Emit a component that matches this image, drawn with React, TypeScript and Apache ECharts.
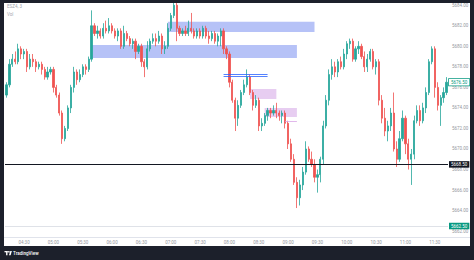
import React, { useEffect, useRef } from "react";
import * as echarts from "echarts";

// 3-minute candles, ESZ4, starting 04:12
const startMinute = 4 * 60 + 12;
const stepMinutes = 3;

const opens = [
  5675.25, 5676.25, 5678.25, 5678.75, 5678.5, 5679.75, 5679.25, 5679.5, 5678.0, 5678.75,
  5678.5, 5678.0, 5678.25, 5677.75, 5677.0, 5677.5, 5677.75, 5676.0, 5675.25, 5673.5,
  5671.0, 5672.0, 5674.0, 5676.0, 5677.5, 5676.75, 5677.25, 5678.0, 5677.75, 5678.75,
  5682.0, 5681.25, 5681.5, 5681.0, 5681.75, 5681.5, 5682.0, 5681.5, 5681.0, 5681.5,
  5680.0, 5681.25, 5680.75, 5680.25, 5680.5, 5679.5, 5680.0, 5678.5, 5678.0, 5679.75,
  5680.5, 5680.75, 5680.5, 5681.0, 5679.75, 5680.0, 5681.75, 5683.0, 5684.0, 5681.75,
  5681.25, 5681.5, 5681.25, 5681.75, 5681.5, 5681.0, 5681.5, 5681.0, 5681.75, 5681.0,
  5680.75, 5681.25, 5680.5, 5681.0, 5681.5, 5679.75, 5679.25, 5676.5, 5674.75, 5673.0,
  5674.25, 5675.5, 5676.25, 5677.0, 5675.5, 5674.25, 5674.75, 5672.25, 5672.5, 5673.25,
  5673.75, 5673.5, 5673.75, 5673.5, 5673.25, 5673.5, 5672.5, 5670.5, 5669.0, 5666.75,
  5665.25, 5666.5, 5667.75, 5670.0, 5669.0, 5668.5, 5667.25, 5667.5, 5669.0, 5672.25,
  5674.75, 5677.25, 5678.0, 5677.5, 5678.5, 5678.0, 5679.25, 5680.25, 5680.5, 5678.75,
  5679.75, 5680.0, 5679.0, 5678.0, 5678.75, 5679.5, 5678.0, 5678.5, 5674.75, 5673.0,
  5671.75, 5672.25, 5673.5, 5670.0, 5669.0, 5671.0, 5673.0, 5670.5, 5669.0, 5669.5,
  5672.75, 5673.75, 5672.75, 5674.0, 5675.5, 5678.5, 5679.75, 5676.0, 5674.25, 5675.0,
  5675.5,
];

const closes = [
  5676.25, 5678.25, 5678.75, 5678.5, 5679.75, 5679.25, 5679.5, 5678.0, 5678.75, 5678.5,
  5678.0, 5678.25, 5677.75, 5677.0, 5677.5, 5677.75, 5676.0, 5675.25, 5673.5, 5671.0,
  5672.0, 5674.0, 5676.0, 5677.5, 5676.75, 5677.25, 5678.0, 5677.75, 5678.75, 5682.0,
  5681.25, 5681.5, 5681.0, 5681.75, 5681.5, 5682.0, 5681.5, 5681.0, 5681.5, 5680.0,
  5681.25, 5680.75, 5680.25, 5680.5, 5679.5, 5680.0, 5678.5, 5678.0, 5679.75, 5680.5,
  5680.75, 5680.5, 5681.0, 5679.75, 5680.0, 5681.75, 5683.0, 5684.0, 5681.75, 5681.25,
  5681.5, 5681.25, 5681.75, 5681.5, 5681.0, 5681.5, 5681.0, 5681.75, 5681.0, 5680.75,
  5681.25, 5680.5, 5681.0, 5681.5, 5679.75, 5679.25, 5676.5, 5674.75, 5673.0, 5674.25,
  5675.5, 5676.25, 5677.0, 5675.5, 5674.25, 5674.75, 5672.25, 5672.5, 5673.25, 5673.75,
  5673.5, 5673.75, 5673.5, 5673.25, 5673.5, 5672.5, 5670.5, 5669.0, 5666.75, 5665.25,
  5666.5, 5667.75, 5670.0, 5669.0, 5668.5, 5667.25, 5667.5, 5669.0, 5672.25, 5674.75,
  5677.25, 5678.0, 5677.5, 5678.5, 5678.0, 5679.25, 5680.25, 5680.5, 5678.75, 5679.75,
  5680.0, 5679.0, 5678.0, 5678.75, 5679.5, 5678.0, 5678.5, 5674.75, 5673.0, 5671.75,
  5672.25, 5673.5, 5670.0, 5669.0, 5671.0, 5673.0, 5670.5, 5669.0, 5669.5, 5672.75,
  5673.75, 5672.75, 5674.0, 5675.5, 5678.5, 5679.75, 5676.0, 5674.25, 5675.0, 5675.5,
  5676.5,
];

const lows = [
  5675.0, 5676.0, 5678.0, 5678.25, 5678.25, 5678.75, 5678.75, 5677.5, 5677.75, 5678.0,
  5677.5, 5677.75, 5677.25, 5676.75, 5676.75, 5677.25, 5675.5, 5675.0, 5673.25, 5670.5,
  5670.75, 5671.75, 5673.5, 5675.5, 5676.25, 5676.5, 5677.0, 5677.25, 5677.5, 5678.5,
  5681.0, 5680.75, 5680.75, 5680.75, 5681.25, 5681.25, 5681.25, 5680.75, 5680.5, 5679.75,
  5679.75, 5680.5, 5680.0, 5679.75, 5678.75, 5679.25, 5678.0, 5677.0, 5677.75, 5679.5,
  5680.25, 5680.0, 5680.25, 5679.25, 5679.25, 5679.75, 5681.5, 5682.75, 5680.5, 5681.0,
  5681.0, 5681.0, 5681.0, 5681.25, 5680.75, 5680.75, 5680.75, 5680.75, 5680.75, 5680.25,
  5680.5, 5680.25, 5680.0, 5680.0, 5679.25, 5678.75, 5676.0, 5674.5, 5671.75, 5672.25,
  5674.0, 5675.25, 5676.0, 5675.25, 5673.75, 5674.0, 5671.75, 5671.75, 5672.25, 5672.75,
  5673.0, 5673.25, 5673.0, 5672.75, 5672.5, 5672.0, 5670.0, 5668.75, 5666.5, 5664.25,
  5664.5, 5666.0, 5667.5, 5668.75, 5668.25, 5666.75, 5665.75, 5666.75, 5668.5, 5672.0,
  5674.25, 5676.75, 5677.0, 5677.0, 5677.75, 5677.75, 5678.75, 5679.75, 5678.5, 5678.5,
  5679.25, 5678.75, 5677.5, 5677.5, 5678.5, 5677.75, 5677.25, 5674.25, 5672.5, 5671.25,
  5670.75, 5671.75, 5669.75, 5668.25, 5668.75, 5670.75, 5669.5, 5668.0, 5666.5, 5669.0,
  5672.5, 5672.25, 5672.5, 5673.5, 5675.25, 5678.25, 5675.0, 5673.75, 5672.25, 5674.5,
  5675.25,
];

const highs = [
  5676.5, 5678.75, 5679.25, 5679.5, 5680.25, 5680.0, 5679.75, 5679.75, 5679.25, 5679.25,
  5678.75, 5678.5, 5678.5, 5678.0, 5678.0, 5678.0, 5678.0, 5676.25, 5675.5, 5673.75,
  5672.25, 5674.25, 5676.25, 5678.0, 5677.75, 5677.75, 5678.25, 5678.25, 5679.0, 5683.5,
  5682.25, 5682.0, 5681.75, 5682.25, 5682.5, 5682.75, 5682.25, 5681.75, 5681.75, 5681.75,
  5682.0, 5681.5, 5681.0, 5680.75, 5680.75, 5680.25, 5680.25, 5678.75, 5680.5, 5680.75,
  5681.25, 5681.25, 5681.5, 5681.25, 5680.5, 5682.25, 5683.25, 5684.75, 5684.5, 5682.0,
  5681.75, 5682.0, 5682.5, 5683.25, 5681.75, 5681.75, 5681.75, 5682.0, 5682.0, 5681.5,
  5681.5, 5681.5, 5681.25, 5681.75, 5681.75, 5680.0, 5679.5, 5676.75, 5675.0, 5674.75,
  5675.75, 5676.75, 5677.75, 5677.25, 5675.75, 5675.25, 5675.0, 5673.0, 5673.5, 5674.0,
  5674.0, 5674.25, 5674.5, 5673.75, 5673.75, 5673.75, 5672.75, 5671.0, 5669.5, 5667.25,
  5667.0, 5668.25, 5670.75, 5670.25, 5669.75, 5669.0, 5668.0, 5669.25, 5672.75, 5675.25,
  5677.75, 5678.75, 5678.5, 5678.75, 5679.0, 5679.75, 5680.5, 5680.75, 5680.75, 5680.0,
  5680.5, 5680.25, 5679.5, 5679.25, 5679.75, 5679.75, 5678.75, 5678.75, 5675.25, 5674.0,
  5672.75, 5674.0, 5675.5, 5670.75, 5671.75, 5673.75, 5673.25, 5671.0, 5670.0, 5673.25,
  5674.25, 5674.25, 5674.5, 5676.0, 5678.75, 5680.0, 5680.0, 5676.5, 5675.25, 5676.0,
  5677.0,
];

const priceTicks = [5662, 5664, 5666, 5668, 5670, 5672, 5674, 5676, 5678, 5680, 5682, 5684];
const priceMin = 5661.43;
const priceMax = 5684.12;

// horizontal price levels
const blackLevel = 5668.5;
const lastPrice = 5676.5;
const bottomLevel = 5662.5;

// drawn zones: [startIndex, endIndex, topPrice, bottomPrice]
const blueZones = [
  [29, 99, 5680.13, 5678.86],
  [55, 105, 5682.4, 5681.4],
];
const pinkZones = [
  [83, 92, 5675.84, 5674.87],
  [88, 99, 5674.0, 5673.12],
];
// short segments: [startIndex, endIndex, price]
const blueSegments = [
  [74, 89, 5677.3],
  [74, 89, 5677.1],
];
const pinkSegments = [[95, 99, 5672.73]];

const times: string[] = opens.map((_, i) => {
  const m = startMinute + stepMinutes * i;
  return `${String(Math.floor(m / 60)).padStart(2, "0")}:${String(m % 60).padStart(2, "0")}`;
});

const FONT = "Roboto, sans-serif";
const FRAME = "#1c202b";
const AXIS_TEXT = "#9598a1";
const UP = "#26a69a";
const DOWN = "#ef5350";

export default function App() {
  const ref = useRef<HTMLDivElement>(null);

  useEffect(() => {
    if (!ref.current) return;
    const chart = echarts.init(ref.current, undefined, { renderer: "svg" });

    const candles = opens.map((o, i) => [o, closes[i], lows[i], highs[i]]);

    const labelBox = (text: string, bg: string, fg: string, border?: string) => ({
      show: true,
      position: "end",
      distance: 1,
      formatter: text,
      backgroundColor: bg,
      color: fg,
      borderColor: border || bg,
      borderWidth: border ? 0.8 : 0,
      padding: [1, 2, 0.5, 2],
      fontSize: 4.5,
      fontFamily: FONT,
    });

    const option: any = {
      animation: false,
      backgroundColor: "#ffffff",
      grid: { left: 5, right: 26, top: 4, bottom: 23, containLabel: false },
      xAxis: {
        type: "category",
        data: times,
        boundaryGap: true,
        axisLine: { show: false },
        axisTick: { show: false },
        splitLine: { show: false },
        axisLabel: {
          interval: (_idx: number, value: string) => value.endsWith(":00") || value.endsWith(":30"),
          color: AXIS_TEXT,
          fontSize: 4.5,
          fontFamily: FONT,
          margin: 3,
          hideOverlap: false,
        },
      },
      yAxis: {
        type: "value",
        position: "right",
        min: priceMin,
        max: priceMax,
        scale: true,
        axisLine: { show: false },
        axisTick: { show: false },
        splitLine: { show: false },
        axisLabel: {
          customValues: priceTicks,
          formatter: (v: number) => v.toFixed(2),
          color: AXIS_TEXT,
          fontSize: 4.5,
          fontFamily: FONT,
          margin: 4,
        },
      },
      series: [
        {
          type: "candlestick",
          data: candles,
          barWidth: 1.7,
          itemStyle: {
            color: UP,
            color0: DOWN,
            borderColor: UP,
            borderColor0: DOWN,
            borderWidth: 0.8,
          },
          markArea: {
            silent: true,
            data: [
              ...blueZones.map((z) => [
                { coord: [times[z[0]], z[2]], itemStyle: { color: "rgba(80,110,235,0.42)" } },
                { coord: [times[z[1]], z[3]] },
              ]),
              ...pinkZones.map((z) => [
                { coord: [times[z[0]], z[2]], itemStyle: { color: "rgba(180,100,210,0.32)" } },
                { coord: [times[z[1]], z[3]] },
              ]),
            ],
          },
          markLine: {
            silent: true,
            symbol: "none",
            data: [
              {
                yAxis: blackLevel,
                lineStyle: { color: "#131722", width: 1, type: "solid" },
                label: labelBox(blackLevel.toFixed(2), "#131722", "#ffffff"),
              },
              {
                yAxis: lastPrice,
                lineStyle: { color: "rgba(0,0,0,0)", width: 1, type: "solid" },
                label: labelBox(lastPrice.toFixed(2), "#ffffff", "#089981", "#089981"),
              },
              {
                yAxis: bottomLevel,
                lineStyle: { color: "#dfe2e8", width: 1, type: "solid" },
                label: labelBox(bottomLevel.toFixed(2), "#089981", "#ffffff"),
              },
              ...blueSegments.map((s) => [
                {
                  coord: [times[s[0]], s[2]],
                  lineStyle: { color: "#2962ff", width: 0.8, type: "solid" },
                  label: { show: false },
                },
                { coord: [times[s[1]], s[2]] },
              ]),
              ...pinkSegments.map((s) => [
                {
                  coord: [times[s[0]], s[2]],
                  lineStyle: { color: "#d9a6e6", width: 0.8, type: "solid" },
                  label: { show: false },
                },
                { coord: [times[s[1]], s[2]] },
              ]),
            ],
          },
        },
      ],
      graphic: [
        {
          type: "line",
          z: 90,
          silent: true,
          shape: { x1: 4, y1: 237.5, x2: 470, y2: 237.5 },
          style: { stroke: "#e0e3eb", lineWidth: 1 },
        },
        {
          type: "text",
          z: 90,
          left: 7,
          top: 4,
          style: { text: "ESZ4, 3", fill: "#a3a6af", fontSize: 4.5, fontFamily: FONT },
        },
        {
          type: "text",
          z: 90,
          left: 7,
          top: 12,
          style: { text: "Vol", fill: "#a3a6af", fontSize: 4.5, fontFamily: FONT },
        },
        // dark frame
        { type: "rect", z: 100, silent: true, shape: { x: 0, y: 0, width: 474, height: 3 }, style: { fill: FRAME } },
        { type: "rect", z: 100, silent: true, shape: { x: 0, y: 0, width: 4, height: 260 }, style: { fill: FRAME } },
        { type: "rect", z: 100, silent: true, shape: { x: 470, y: 0, width: 4, height: 260 }, style: { fill: FRAME } },
        { type: "rect", z: 100, silent: true, shape: { x: 0, y: 246, width: 474, height: 14 }, style: { fill: FRAME } },
        // TradingView logo
        { type: "rect", z: 101, silent: true, shape: { x: 4.5, y: 251, width: 3.2, height: 1.3 }, style: { fill: "#ffffff" } },
        { type: "rect", z: 101, silent: true, shape: { x: 6.1, y: 251, width: 1.4, height: 4.2 }, style: { fill: "#ffffff" } },
        { type: "circle", z: 101, silent: true, shape: { cx: 8.9, cy: 251.8, r: 0.8 }, style: { fill: "#ffffff" } },
        {
          type: "polygon",
          z: 101,
          silent: true,
          shape: { points: [[10.3, 251], [11.9, 251], [10.6, 255.2], [9.0, 255.2]] },
          style: { fill: "#ffffff" },
        },
        {
          type: "text",
          z: 101,
          left: 13,
          top: 250.5,
          style: { text: "TradingView", fill: "#ffffff", fontSize: 4.6, fontWeight: 500, fontFamily: FONT },
        },
      ],
    };

    chart.setOption(option);
    return () => chart.dispose();
  }, []);

  return (
    <div
      ref={ref}
      style={{ position: "fixed", left: 0, top: 0, width: 474, height: 260 }}
    />
  );
}
